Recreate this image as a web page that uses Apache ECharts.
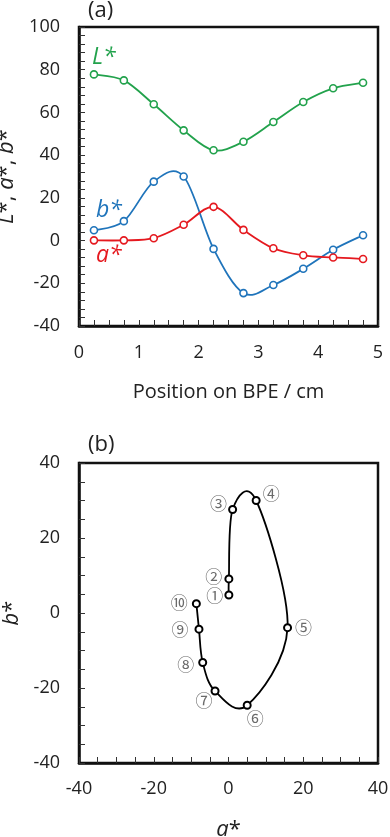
<!DOCTYPE html>
<html>
<head>
<meta charset="utf-8">
<script src="https://cdn.jsdelivr.net/npm/echarts@6/dist/echarts.min.js"></script>
<style>
html,body{margin:0;padding:0;background:#fff;}
#chart{width:390px;height:837px;}
</style>
</head>
<body>
<div id="chart"></div>
<script>
// ---- data ----
const positions = [0.25, 0.75, 1.25, 1.75, 2.25, 2.75, 3.25, 3.75, 4.25, 4.75];
const Lstar = [77.8, 75.0, 63.8, 51.6, 42.3, 46.3, 55.5, 64.9, 71.3, 73.9];
const astar = [0.1, 0.1, 1.1, 7.4, 15.8, 5.0, -3.6, -6.9, -7.9, -8.6];
const bstar = [4.8, 9.1, 27.6, 30.0, -3.9, -24.6, -20.8, -13.2, -4.3, 2.5];
const pointLabels = ['①','②','③','④','⑤','⑥','⑦','⑧','⑨','⑩'];
const xTicksA = [0, 1, 2, 3, 4, 5];
const yTicksA = [-40, -20, 0, 20, 40, 60, 80, 100];
const ticksB = [-40, -20, 0, 20, 40];

// label offsets (style) for panel (b)
const labelOffsets = [[-14,1],[-15,-2],[-14,-6],[15,-7],[16,0],[8,13],[-11,10],[-17,2],[-19,0],[-17,-1]];

const FONT = '"Open Sans", "Noto Sans", sans-serif';
const txt = '#222';
const GREEN = '#22a24c', BLUE = '#1f74bb', RED = '#e5191f';

function pairs(xs, ys){ return xs.map((x,i)=>[x, ys[i]]); }

const chart = echarts.init(document.getElementById('chart'), null, {renderer:'canvas'});

function valAxis(gridIndex, min, max, interval, minorSplit, opts){
  return Object.assign({
    type:'value', gridIndex, min, max, interval,
    axisLine:{show:true, onZero:false, lineStyle:{color:'#111', width:2.5}},
    axisTick:{show:true, inside:true, length:6, lineStyle:{color:'#333', width:1}},
    minorTick:{show:true, splitNumber:minorSplit, length:6, lineStyle:{color:'#333', width:1}},
    splitLine:{show:false},
    axisLabel:{color:txt, fontSize:18, fontFamily:FONT, margin:14},
    z:10
  }, opts);
}

// smooth curve (Catmull-Rom style Bezier) drawn through the data via the axes
function curveSeries(xIdx, yIdx, xs, ys, color, width){
  return {
    type:'custom', xAxisIndex:xIdx, yAxisIndex:yIdx,
    data: pairs(xs, ys),
    encode:{x:0, y:1},
    silent:true, z:2,
    renderItem:function(params, api){
      const i = params.dataIndex;
      const n = xs.length;
      if (i >= n-1) return {type:'group', children:[]};
      const P = k => api.coord([xs[Math.max(0,Math.min(n-1,k))], ys[Math.max(0,Math.min(n-1,k))]]);
      const p0 = P(i-1), p1 = P(i), p2 = P(i+1), p3 = P(i+2);
      const t = 1/6;
      return {
        type:'bezierCurve',
        shape:{
          x1:p1[0], y1:p1[1], x2:p2[0], y2:p2[1],
          cpx1:p1[0]+(p2[0]-p0[0])*t, cpy1:p1[1]+(p2[1]-p0[1])*t,
          cpx2:p2[0]-(p3[0]-p1[0])*t, cpy2:p2[1]-(p3[1]-p1[1])*t
        },
        style:{stroke:color, lineWidth:width, fill:null}
      };
    }
  };
}

function markerSeries(xIdx, yIdx, data, color, bw){
  return {
    type:'scatter', xAxisIndex:xIdx, yAxisIndex:yIdx, data,
    symbol:'circle', symbolSize:7, z:4,
    itemStyle:{color:'#fff', borderColor:color, borderWidth:bw, opacity:1}
  };
}

const series = [
  curveSeries(0,0, positions, Lstar, GREEN, 1.8),
  curveSeries(0,0, positions, bstar, BLUE, 1.8),
  curveSeries(0,0, positions, astar, RED, 1.8),
  markerSeries(0,0, pairs(positions, Lstar), GREEN, 1.6),
  markerSeries(0,0, pairs(positions, bstar), BLUE, 1.6),
  markerSeries(0,0, pairs(positions, astar), RED, 1.6),
  curveSeries(1,1, astar, bstar, '#000', 1.8),
  Object.assign(markerSeries(1,1, astar.map((a,i)=>({
      value:[a, bstar[i]],
      label:{show:true, position:'inside', offset:labelOffsets[i], formatter:pointLabels[i]}
    })), '#000', 2), {
    label:{color:'#6a6a6a', fontSize:17, fontFamily:'"Noto Sans CJK JP", "DejaVu Sans", sans-serif'}
  })
];

const richItalic = {i:{fontStyle:'italic', fontSize:22, fontFamily:FONT, color:txt}};

const option = {
  animation:false,
  backgroundColor:'#fff',
  grid:[
    {left:79, right:12, top:27, height:299, show:true, borderColor:'#111', borderWidth:2.5, containLabel:false, outerBoundsMode:'none'},
    {left:79, right:12, top:463, height:300, show:true, borderColor:'#111', borderWidth:2.5, containLabel:false, outerBoundsMode:'none'}
  ],
  xAxis:[
    valAxis(0, 0, 5, 1, 4, {
      name:'Position on BPE / cm', nameLocation:'middle', nameGap:56,
      nameTextStyle:{color:txt, fontSize:20, fontFamily:FONT},
      axisLabel:{color:txt, fontSize:18, fontFamily:FONT, margin:18,
        formatter:v=>xTicksA.includes(v)?String(v):''}
    }),
    valAxis(1, -40, 40, 20, 4, {
      name:'{i|a}*', nameLocation:'middle', nameGap:56,
      nameTextStyle:{color:txt, fontSize:22, fontFamily:FONT, rich:richItalic},
      axisLabel:{color:txt, fontSize:18, fontFamily:FONT, margin:17,
        formatter:v=>ticksB.includes(v)?String(v):''}
    })
  ],
  yAxis:[
    valAxis(0, -40, 100, 20, 5, {
      name:'{i|L}*, {i|a}*, {i|b}*', nameLocation:'middle', nameGap:58,
      nameTextStyle:{color:txt, fontSize:22, fontFamily:FONT, rich:richItalic},
      axisLabel:{color:txt, fontSize:18, fontFamily:FONT, margin:19,
        formatter:v=>yTicksA.includes(v)?String(v):''}
    }),
    valAxis(1, -40, 40, 20, 4, {
      name:'{i|b}*', nameLocation:'middle', nameGap:55,
      nameTextStyle:{color:txt, fontSize:22, fontFamily:FONT, rich:richItalic},
      axisLabel:{color:txt, fontSize:18, fontFamily:FONT, margin:19,
        formatter:v=>ticksB.includes(v)?String(v):''}
    })
  ],
  series,
  graphic:[
    {type:'text', left:88, top:0, style:{text:'(a)', fontSize:22, fontFamily:FONT, fill:txt}},
    {type:'text', left:88, top:434, style:{text:'(b)', fontSize:22, fontFamily:FONT, fill:txt}},
    {type:'text', left:92, top:46, style:{text:'L*', fontSize:23, fontStyle:'italic', fontFamily:FONT, fill:GREEN}},
    {type:'text', left:96, top:199, style:{text:'b*', fontSize:23, fontStyle:'italic', fontFamily:FONT, fill:BLUE}},
    {type:'text', left:96, top:244, style:{text:'a*', fontSize:23, fontStyle:'italic', fontFamily:FONT, fill:RED}}
  ]
};
chart.setOption(option);
</script>
</body>
</html>
